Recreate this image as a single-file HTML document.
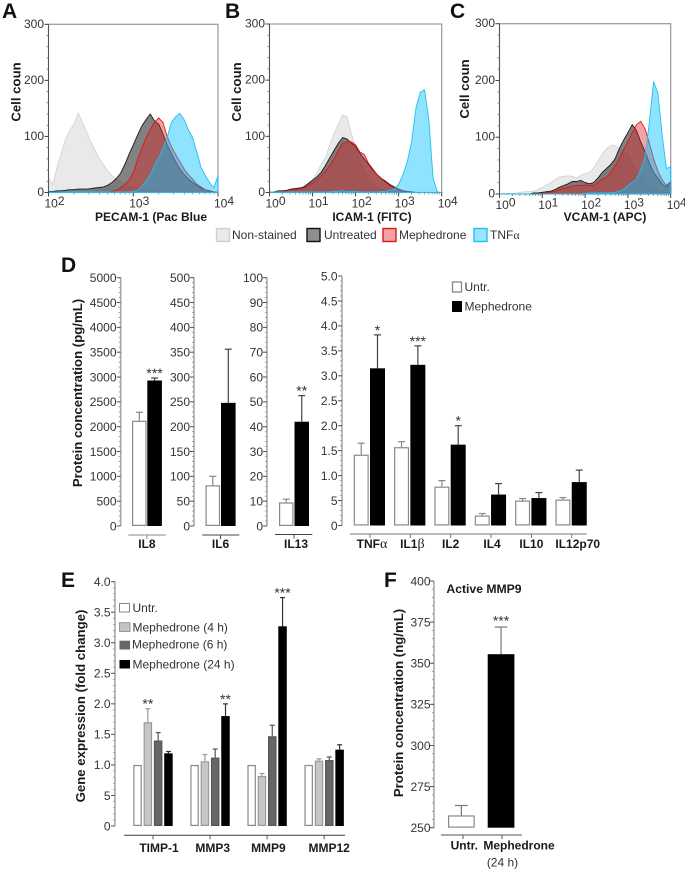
<!DOCTYPE html>
<html lang="en">
<head>
<meta charset="utf-8">
<title>Mephedrone endothelial activation figure</title>
<style>
html,body{margin:0;padding:0;background:#fff;width:685px;height:872px;overflow:hidden}
svg{display:block;font-family:"Liberation Sans",Arial,sans-serif;filter:blur(0.35px)}
.letter{font-size:21px;font-weight:bold;fill:#111}
.title{font-size:11px;font-weight:bold;fill:#1a1a1a;text-anchor:middle}
.axt{font-size:12px;font-weight:bold;fill:#1a1a1a;text-anchor:middle}
.ayt{font-size:13.2px;font-weight:bold;fill:#1a1a1a;text-anchor:middle}
.leg{font-size:12px;fill:#333}
.tick{font-size:12px;fill:#333;text-anchor:end}
.cat{font-size:12px;font-weight:bold;fill:#1a1a1a;text-anchor:middle}
.star{font-size:14px;fill:#333;text-anchor:middle}
.dec{font-size:12px;fill:#333}
</style>
</head>
<body>
<svg id="fig" xmlns="http://www.w3.org/2000/svg" width="685" height="872" viewBox="0 0 685 872">
  <text class="letter" x="2" y="18">A</text>
  <text class="letter" x="225" y="18">B</text>
  <text class="letter" x="450" y="18">C</text>
  <text class="letter" x="61" y="272">D</text>
  <text class="letter" x="61" y="587">E</text>
  <text class="letter" x="384" y="587">F</text>

  <text class="title" x="127" y="45">PECAM-1</text>
  <text class="title" x="343" y="45">ICAM-1</text>
  <text class="title" x="588" y="45">VCAM-1</text>
  <text class="axt" x="151" y="221">PECAM-1 (Pac Blue</text>
  <text class="axt" x="372" y="221">ICAM-1 (FITC)</text>
  <text class="axt" x="605" y="221">VCAM-1 (APC)</text>
  <text class="ayt" transform="translate(20.5 92) rotate(-90)">Cell coun</text>
  <text class="ayt" transform="translate(241 92) rotate(-90)">Cell coun</text>
  <text class="ayt" transform="translate(469 89) rotate(-90)">Cell coun</text>

  <g>
    <rect x="216.5" y="228.5" width="13" height="13" fill="#e9e9e9" stroke="#cfcfcf" stroke-width="1.4"/>
    <text class="leg" x="232" y="239">Non-stained</text>
    <rect x="307" y="228.5" width="13" height="13" fill="#8e8e8e" stroke="#111" stroke-width="1.4"/>
    <text class="leg" x="324" y="239">Untreated</text>
    <rect x="383" y="228.5" width="13" height="13" fill="#f3a0a0" stroke="#e01818" stroke-width="1.4"/>
    <text class="leg" x="399" y="239">Mephedrone</text>
    <rect x="474" y="228.5" width="13" height="13" fill="#98e6ff" stroke="#20c0f0" stroke-width="1.4"/>
    <text class="leg" x="490" y="239">TNF<tspan font-family="'Liberation Serif',serif">α</tspan></text>
  </g>

  <text class="ayt" transform="translate(82 393) rotate(-90)">Protein concentration (pg/mL)</text>
  <text class="ayt" transform="translate(85 706) rotate(-90)">Gene expression (fold change)</text>
  <text class="ayt" transform="translate(403 703) rotate(-90)">Protein concentration (ng/mL)</text>

  <g>
    <rect x="452.5" y="282" width="9" height="10" fill="#fff" stroke="#888" stroke-width="1.3"/>
    <text class="leg" x="464.5" y="291">Untr.</text>
    <rect x="452" y="301" width="10" height="11" fill="#000"/>
    <text class="leg" x="464.5" y="310.5">Mephedrone</text>
  </g>

  <g>
    <rect x="119.5" y="603.5" width="10" height="8.5" fill="#fff" stroke="#888" stroke-width="1"/>
    <text class="leg" x="132.5" y="612">Untr.</text>
    <rect x="119.5" y="622.7" width="10.5" height="8.8" fill="#c4c4c4" stroke="#999" stroke-width="1"/>
    <text class="leg" x="132.5" y="631.3">Mephedrone (4 h)</text>
    <rect x="119.5" y="640.7" width="10.5" height="8.8" fill="#666"/>
    <text class="leg" x="132" y="648.7">Mephedrone (6 h)</text>
    <rect x="119.5" y="660" width="10.5" height="8.5" fill="#000"/>
    <text class="leg" x="132.5" y="668.3">Mephedrone (24 h)</text>
  </g>

  <text class="title" x="484" y="593" style="font-size:12.2px">Active MMP9</text>
  <text class="leg" x="502.5" y="866.5" text-anchor="middle">(24 h)</text>

  <g id="charts"></g>
</svg>
<script>
// ---- Panel A: PECAM-1 histogram counts (log bins, 0.05 decade from 10^2) ----
const pecamNonStained = [25,14,45,70,95,110,122,142,125,108,90,75,60,50,38,30,24,19,14,11,9,7,5,4,3,2,2,1,1,1,0,0,0,0,0,0,0,0,0,0,0];
const pecamUntreated = [2,2,3,3,4,5,5,6,6,6,7,8,9,10,13,18,25,34,50,68,85,102,118,130,140,128,122,105,85,70,55,42,32,24,18,13,8,5,3,1,0];
const pecamMephedrone = [0,0,0,0,0,0,0,0,0,0,0,0,0,0,1,2,4,8,14,22,35,58,78,97,112,125,133,125,100,82,68,55,42,32,24,15,10,5,2,1,0];
const pecamTnf = [1,1,1,1,1,1,1,1,1,1,1,1,1,1,1,1,1,1,1,1,2,4,10,20,32,48,62,78,98,125,135,141,130,112,98,72,45,30,18,8,30];
// ---- Panel B: ICAM-1 histogram counts (log bins, 0.1 decade from 10^0) ----
const icamNonStained = [1,1,2,3,4,5,6,8,10,14,22,35,50,62,85,105,122,138,135,105,78,55,38,25,15,9,5,3,1,0,0,0,0,0,0,0,0,0,0,0,0];
const icamUntreated = [1,1,3,3,4,6,7,8,10,16,22,28,36,48,62,75,88,98,95,88,82,70,60,50,40,32,25,20,14,10,6,3,2,1,0,0,0,0,0,0,0];
const icamMephedrone = [0,1,2,2,3,5,5,7,8,12,17,22,30,38,48,60,75,88,90,90,85,72,68,52,42,32,24,18,12,8,5,2,1,0,0,0,0,0,0,0,0];
const icamTnf = [1,1,1,1,1,1,1,1,1,1,1,1,1,1,1,2,2,3,2,2,2,1,1,1,1,1,2,2,4,6,14,32,55,90,150,178,183,130,25,1,0];
// ---- Panel C: VCAM-1 histogram counts (log bins, 0.1 decade from 10^0) ----
const vcamNonStained = [0,0,1,1,2,3,4,4,5,8,12,16,20,25,30,31,32,31,28,33,36,38,45,58,70,80,85,85,80,77,70,55,42,32,22,15,11,7,4,3,2];
const vcamUntreated = [0,0,0,0,0,0,0,0,2,2,3,4,5,8,12,15,18,22,22,24,20,18,20,28,38,45,52,62,80,95,108,122,112,92,75,55,38,28,18,12,22];
const vcamMephedrone = [0,0,0,0,0,0,0,0,0,0,1,2,3,5,8,10,12,14,15,15,16,15,15,20,26,30,38,50,62,78,92,108,122,128,115,90,62,40,25,15,22];
const vcamTnf = [0,0,0,0,0,0,0,0,0,0,0,0,0,0,0,0,0,0,0,0,1,2,2,2,2,2,2,3,5,8,15,20,26,42,65,125,198,178,105,45,48];
const histCountTicks = [0,100,200,300];
const histDecadesA = [2,3,4];
const histDecadesBC = [0,1,2,3,4];

// ---- Panel D values ----
const il8Categories = ['IL8'];
const il8Untr = [2120];
const il8UntrTop = [2290];
const il8Meph = [2930];
const il8MephTop = [2980];
const il8Stars = ['***'];
const il8Ticks = [0,500,1000,1500,2000,2500,3000,3500,4000,4500,5000];
const il8TickLabels = ['0','500','1000','1500','2000','2500','3000','3500','4000','4500','5000'];

const il6Categories = ['IL6'];
const il6Untr = [82];
const il6UntrTop = [100];
const il6Meph = [248];
const il6MephTop = [356];
const il6Stars = [''];
const il6Ticks = [0,50,100,150,200,250,300,350,400,450,500];
const il6TickLabels = ['0','50','100','150','200','250','300','350','400','450','500'];

const il13Categories = ['IL13'];
const il13Untr = [9.5];
const il13UntrTop = [10.8];
const il13Meph = [42];
const il13MephTop = [52.5];
const il13Stars = ['**'];
const il13Ticks = [0,10,20,30,40,50,60,70,80,90,100];
const il13TickLabels = ['0','10','20','30','40','50','60','70','80','90','100'];

const cytoCategories = ['TNFα','IL1β','IL2','IL4','IL10','IL12p70'];
const cytoUntr = [1.42,1.57,0.78,0.20,0.50,0.52];
const cytoUntrTop = [1.65,1.68,0.90,0.24,0.54,0.56];
const cytoMeph = [3.15,3.22,1.62,0.62,0.55,0.87];
const cytoMephTop = [3.82,3.60,2.00,0.84,0.66,1.11];
const cytoStars = ['*','***','*','','',''];
const cytoTicks = [0,0.5,1,1.5,2,2.5,3,3.5,4,4.5,5];
const cytoTickLabels = ['0','5','1.0','1.5','2.0','2.5','3.0','3.5','4.0','4.5','5.0'];

// ---- Panel E values ----
const geneCategories = ['TIMP-1','MMP3','MMP9','MMP12'];
const geneUntr = [1,1,1,1];
const geneH4 = [1.70,1.06,0.82,1.07];
const geneH4Top = [1.92,1.17,0.86,1.10];
const geneH6 = [1.40,1.12,1.47,1.08];
const geneH6Top = [1.53,1.26,1.65,1.13];
const geneH24 = [1.19,1.80,3.27,1.25];
const geneH24Top = [1.22,2.00,3.74,1.33];
const geneStars = ['**','**','***',''];
const geneStarSeries = [1,3,3,3];
const geneTicks = [0,0.5,1,1.5,2,2.5,3,3.5,4];
const geneTickLabels = ['0','5','1.0','1.5','2.0','2.5','3.0','3.5','4.0'];

// ---- Panel F values ----
const mmp9Untr = [257.5];
const mmp9UntrTop = [263.5];
const mmp9Meph = [355.5];
const mmp9MephTop = [372];
const mmp9Stars = ['***'];
const mmp9Ticks = [250,275,300,325,350,375,400];
const mmp9TickLabels = ['250','275','300','325','350','375','400'];
const mmp9Categories = ['Untr.','Mephedrone'];

const NS = 'http://www.w3.org/2000/svg';
const root = document.getElementById('charts');

function make(tag, attrs, parent) {
  const node = document.createElementNS(NS, tag);
  for (const k in attrs) node.setAttribute(k, attrs[k]);
  (parent || root).appendChild(node);
  return node;
}
function linear(d0, d1, r0, r1) {
  return function (v) { return r0 + (v - d0) / (d1 - d0) * (r1 - r0); };
}

// Vertical axis with major + minor ticks
function drawYAxis(o) {
  const g = make('g', {});
  
  
  const line = make('line', {x1: o.x, x2: o.x, y1: o.y(o.min), y2: o.y(o.max), stroke: o.axisColor, 'stroke-width': o.axisWidth}, g);
  
  
  const n = Math.round((o.max - o.min) / o.minor);
  for (let i = 0; i <= n; i++) {
    const v = o.min + i * o.minor;
    const yy = o.y(v);
    const m = make('line', {x1: o.x - o.minorLen, x2: o.x, y1: yy, y2: yy, stroke: o.minorColor, 'stroke-width': 0.9}, g);
    
    
  }
  o.ticks.forEach(function (v, i) {
    const yy = o.y(v);
    const t = make('line', {x1: o.x - o.majorLen, x2: o.x, y1: yy, y2: yy, stroke: '#555', 'stroke-width': 1}, g);
    
    
    const lab = make('text', {x: o.labelX, y: yy + 4.3, class: 'tick'}, g);
    lab.textContent = o.labels[i];
    
    
  });
}

// Flow-cytometry overlay histogram
function drawHistogram(o) {
  const xs = linear(o.logMin, o.logMax, o.x0, o.x1);
  const ys = linear(0, 300, o.y0, o.y1);
  const frame = make('rect', {x: o.x0, y: o.y1, width: o.x1 - o.x0, height: o.y0 - o.y1, fill: '#fff', stroke: '#999', 'stroke-width': 1.2});
  
  
  o.series.forEach(function (s) {
    let d = 'M' + xs(o.logMin).toFixed(1) + ' ' + ys(0).toFixed(1);
    s.values.forEach(function (v, i) {
      const lx = o.logMin + i * (o.logMax - o.logMin) / (s.values.length - 1);
      d += 'L' + xs(lx).toFixed(1) + ' ' + ys(v).toFixed(1);
    });
    d += 'L' + xs(o.logMax).toFixed(1) + ' ' + ys(0).toFixed(1) + 'Z';
    const p = make('path', {d: d, fill: s.fill, stroke: s.stroke, 'stroke-width': 0.9, 'stroke-linejoin': 'round'});
    
    
  });
  const left = make('line', {x1: o.x0, x2: o.x0, y1: o.y0, y2: o.y1, stroke: '#555', 'stroke-width': 1});
  
  
  for (let c = 0; c <= 300; c += 20) {
    const tk = make('line', {x1: o.x0 - 2, x2: o.x0, y1: ys(c), y2: ys(c), stroke: '#777', 'stroke-width': 0.8});
    
    
  }
  histCountTicks.forEach(function (c) {
    const tk = make('line', {x1: o.x0 - 4, x2: o.x0, y1: ys(c), y2: ys(c), stroke: '#444', 'stroke-width': 1});
    
    
    const lab = make('text', {x: o.x0 - 4.5, y: ys(c) + 3.5, class: 'tick'});
    lab.textContent = String(c);
    
    
  });
  o.decades.forEach(function (dec, idx) {
    const tx = xs(dec);
    const tk = make('line', {x1: tx, x2: tx, y1: o.y0, y2: o.y0 + 4, stroke: '#444', 'stroke-width': 1});
    
    
    if (idx < o.decades.length - 1) {
      for (let m = 2; m < 10; m++) {
        const mx = xs(dec + Math.log10(m));
        const mt = make('line', {x1: mx, x2: mx, y1: o.y0, y2: o.y0 + 2, stroke: '#777', 'stroke-width': 0.7});
        
        
      }
    }
    const lab = make('text', {x: tx - 4, y: o.y0 + 15, class: 'dec'});
    
    
    const base = make('tspan', {}, lab);
    base.textContent = '10';
    const sup = make('tspan', {dy: -2.5, 'font-size': 12}, lab);
    sup.textContent = String(dec);
  });
}

// Grouped bars with upper error bars, stars, category axis
function drawBars(o) {
  const g = make('g', {});
  
  
  const base = o.y(o.base);
  o.categories.forEach(function (cat, c) {
    const gx = o.x0 + c * o.groupStep;
    o.series.forEach(function (s, k) {
      const bx = gx + k * o.barStep;
      const v = s.values[c];
      const yTop = o.y(v);
      const cx = bx + o.barW / 2;
      if (s.tops) {
        const topY = o.y(s.tops[c]);
        const e = make('line', {x1: cx, x2: cx, y1: yTop, y2: topY, stroke: s.err, 'stroke-width': 1.2}, g);
        
        
        const ec = make('line', {x1: cx - o.cap / 2, x2: cx + o.cap / 2, y1: topY, y2: topY, stroke: s.err, 'stroke-width': 1.2}, g);
        
        
      }
      const r = make('rect', {x: bx + 0.6, y: yTop + 0.6, width: o.barW - 1.2, height: Math.max(0, base - yTop - 1.2), fill: s.fill, stroke: s.stroke, 'stroke-width': 1.2}, g);
      
      
    });
    const star = o.stars[c];
    if (star) {
      const k = o.starSeries ? o.starSeries[c] : o.series.length - 1;
      const s = o.series[k];
      const sx = gx + k * o.barStep + o.barW / 2;
      const st = make('text', {x: sx, y: o.y(s.tops[c]) + (o.starDy || 0), class: 'star'}, g);
      st.textContent = star;
      
      
    }
    const tx = gx + (o.tickAt !== undefined ? o.tickAt : o.barStep * (o.series.length) / 2 - (o.barStep - o.barW) / 2);
    const tk = make('line', {x1: tx, x2: tx, y1: o.axisY, y2: o.axisY + 4, stroke: o.xAxisColor, 'stroke-width': 1}, g);
    
    
    const lab = make('text', {x: tx + (o.labelDx ? o.labelDx[c] : 0), y: o.labelY, class: 'cat'}, g);
    
    
    const m = /^(.*?)([αβ])$/.exec(cat);
    if (m) {
      const a = make('tspan', {}, lab);
      a.textContent = m[1];
      const b = make('tspan', {'font-family': "'Liberation Serif',serif", 'font-weight': 'normal', 'font-size': 14}, lab);
      b.textContent = m[2];
    } else {
      lab.textContent = cat;
    }
  });
  const ax = make('line', {x1: o.axisX0, x2: o.axisX1, y1: o.axisY, y2: o.axisY, stroke: o.xAxisColor, 'stroke-width': 1.1}, g);
  
  
}

const cNon = {fill: '#e9e9e9', stroke: '#d4d4d4'};
const cUnt = {fill: 'rgba(60,60,60,.64)', stroke: '#1a1a1a'};
const cMep = {fill: 'rgba(225,30,30,.4)', stroke: '#dd1414'};
const cTnf = {fill: 'rgba(6,193,255,.45)', stroke: '#20bff0'};

function histSeries(a, b, c, d) {
  return [
    {name: 'non-stained', values: a, fill: cNon.fill, stroke: cNon.stroke},
    {name: 'untreated', values: b, fill: cUnt.fill, stroke: cUnt.stroke},
    {name: 'mephedrone', values: c, fill: cMep.fill, stroke: cMep.stroke},
    {name: 'tnfa', values: d, fill: cTnf.fill, stroke: cTnf.stroke}
  ];
}
drawHistogram({id: 'panel-a', x0: 48.5, x1: 218, y0: 192.5, y1: 24.3, logMin: 2, logMax: 4, decades: histDecadesA, series: histSeries(pecamNonStained, pecamUntreated, pecamMephedrone, pecamTnf)});
drawHistogram({id: 'panel-b', x0: 269.5, x1: 441.7, y0: 192.5, y1: 24, logMin: 0, logMax: 4, decades: histDecadesBC, series: histSeries(icamNonStained, icamUntreated, icamMephedrone, icamTnf)});
drawHistogram({id: 'panel-c', x0: 499.5, x1: 670.7, y0: 194, y1: 23.7, logMin: 0, logMax: 4, decades: histDecadesBC, series: histSeries(vcamNonStained, vcamUntreated, vcamMephedrone, vcamTnf)});

function dSeries(u, ut, m, mt) {
  return [
    {name: 'untreated', values: u, tops: ut, fill: '#fff', stroke: '#888', err: '#888'},
    {name: 'mephedrone', values: m, tops: mt, fill: '#000', stroke: '#000', err: '#444'}
  ];
}
const yAxisStyle = {axisColor: '#a8a8a8', axisWidth: 1.6, minorColor: '#999', minorLen: 2, majorLen: 4};

const yIL8 = linear(0, 5000, 526, 277.7);
drawYAxis(Object.assign({id: 'il8', x: 120.7, y: yIL8, min: 0, max: 5000, minor: 100, ticks: il8Ticks, labels: il8TickLabels, labelX: 116.5}, yAxisStyle));
drawBars({id: 'il8', categories: il8Categories, series: dSeries(il8Untr, il8UntrTop, il8Meph, il8MephTop), stars: il8Stars, y: yIL8, base: 0, x0: 132, groupStep: 40, barW: 14.6, barStep: 15.3, cap: 7, axisY: 535, axisX0: 128.3, axisX1: 165.7, labelY: 548, xAxisColor: '#888'});

const yIL6 = linear(0, 500, 526, 277.7);
drawYAxis(Object.assign({id: 'il6', x: 194, y: yIL6, min: 0, max: 500, minor: 10, ticks: il6Ticks, labels: il6TickLabels, labelX: 190}, yAxisStyle));
drawBars({id: 'il6', categories: il6Categories, series: dSeries(il6Untr, il6UntrTop, il6Meph, il6MephTop), stars: il6Stars, y: yIL6, base: 0, x0: 205.5, groupStep: 40, barW: 14.6, barStep: 15.5, cap: 7, axisY: 535, axisX0: 202.3, axisX1: 239.3, labelY: 548, xAxisColor: '#444'});

const yIL13 = linear(0, 100, 526, 277.7);
drawYAxis(Object.assign({id: 'il13', x: 267, y: yIL13, min: 0, max: 100, minor: 2, ticks: il13Ticks, labels: il13TickLabels, labelX: 263}, yAxisStyle));
drawBars({id: 'il13', categories: il13Categories, series: dSeries(il13Untr, il13UntrTop, il13Meph, il13MephTop), stars: il13Stars, y: yIL13, base: 0, x0: 279, groupStep: 40, barW: 14.5, barStep: 15.5, cap: 7, axisY: 534.5, axisX0: 275, axisX1: 312.3, labelY: 548, xAxisColor: '#444', labelDx: [2]});

const yCyto = linear(0, 5, 525.5, 276);
drawYAxis(Object.assign({id: 'cytokines', x: 342, y: yCyto, min: 0, max: 5, minor: 0.1, ticks: cytoTicks, labels: cytoTickLabels, labelX: 337.5}, yAxisStyle));
drawBars({id: 'cytokines', categories: cytoCategories, series: dSeries(cytoUntr, cytoUntrTop, cytoMeph, cytoMephTop), stars: cytoStars, y: yCyto, base: 0, x0: 353.7, groupStep: 40.35, barW: 15, barStep: 16.3, cap: 7, tickAt: 16.3, axisY: 534, axisX0: 350, axisX1: 586.7, labelY: 548, xAxisColor: '#777', labelDx: [2, 2, 0, 1, 0, 6]});

const yGene = linear(0, 4, 826, 581.7);
drawYAxis(Object.assign({id: 'gene', x: 115, y: yGene, min: 0, max: 4, minor: 0.1, ticks: geneTicks, labels: geneTickLabels, labelX: 110.5}, yAxisStyle));
drawBars({id: 'gene', categories: geneCategories, series: [
  {name: 'untreated', values: geneUntr, fill: '#fff', stroke: '#888'},
  {name: 'mephedrone-4h', values: geneH4, tops: geneH4Top, fill: '#c6c6c6', stroke: '#999', err: '#999'},
  {name: 'mephedrone-6h', values: geneH6, tops: geneH6Top, fill: '#666', stroke: '#555', err: '#555'},
  {name: 'mephedrone-24h', values: geneH24, tops: geneH24Top, fill: '#000', stroke: '#000', err: '#333'}
], stars: geneStars, starSeries: geneStarSeries, y: yGene, base: 0, x0: 133.3, groupStep: 57.05, barW: 8.5, barStep: 10.3, cap: 5, tickAt: 19.7, axisY: 835.3, axisX0: 124, axisX1: 345, labelY: 852, xAxisColor: '#555', labelDx: [6, 2.7, 1.3, 5]});

const yMmp = linear(250, 400, 827.7, 581);
drawYAxis(Object.assign({id: 'mmp9', x: 434, y: yMmp, min: 250, max: 400, minor: 5, ticks: mmp9Ticks, labels: mmp9TickLabels, labelX: 430.5}, yAxisStyle));
drawBars({id: 'mmp9-untreated', categories: [mmp9Categories[0]], series: [{name: 'untreated', values: mmp9Untr, tops: mmp9UntrTop, fill: '#fff', stroke: '#888', err: '#777'}], stars: [''], y: yMmp, base: 250, x0: 448, groupStep: 40, barW: 26.7, barStep: 39.7, cap: 12.7, tickAt: 15, axisY: 835, axisX0: 441, axisX1: 521.7, labelY: 849.5, xAxisColor: '#555', labelDx: [1.3]});
drawBars({id: 'mmp9-mephedrone', categories: [mmp9Categories[1]], series: [{name: 'mephedrone', values: mmp9Meph, tops: mmp9MephTop, fill: '#000', stroke: '#000', err: '#777'}], stars: mmp9Stars, y: yMmp, base: 250, x0: 487.7, groupStep: 40, barW: 26.7, barStep: 39.7, cap: 12.7, tickAt: 14.3, starDy: -1.5, axisY: 835, axisX0: 441, axisX1: 521.7, labelY: 849.5, xAxisColor: '#555', labelDx: [17]});
</script>
</body>
</html>
